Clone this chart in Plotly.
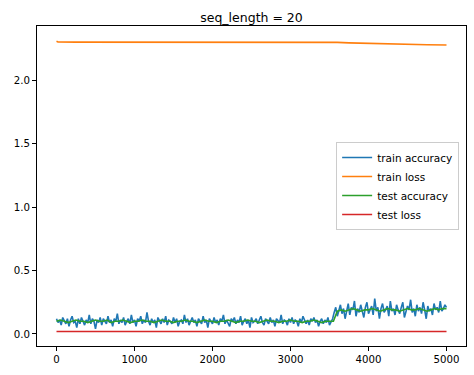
import plotly.graph_objects as go

# ---- data ----
train_acc_step = 20
train_accuracy = [
    0.12,0.09,0.11,0.07,0.13,0.10,0.08,0.12,0.06,0.11,
    0.14,0.09,0.10,0.05,0.12,0.08,0.13,0.10,0.07,0.11,
    0.09,0.15,0.08,0.12,0.10,0.04,0.11,0.09,0.13,0.07,
    0.12,0.10,0.08,0.14,0.09,0.11,0.06,0.12,0.10,0.16,
    0.08,0.11,0.09,0.13,0.07,0.10,0.12,0.08,0.15,0.09,
    0.11,0.06,0.12,0.10,0.14,0.08,0.11,0.09,0.17,0.10,
    0.07,0.12,0.09,0.11,0.05,0.13,0.10,0.08,0.12,0.09,
    0.14,0.07,0.11,0.10,0.08,0.13,0.09,0.12,0.06,0.10,
    0.11,0.08,0.15,0.09,0.12,0.07,0.10,0.13,0.09,0.11,
    0.06,0.12,0.10,0.08,0.14,0.09,0.11,0.05,0.12,0.10,
    0.08,0.13,0.09,0.11,0.07,0.12,0.10,0.15,0.08,0.11,
    0.09,0.06,0.12,0.10,0.13,0.08,0.11,0.09,0.14,0.07,
    0.10,0.12,0.08,0.11,0.05,0.13,0.09,0.10,0.12,0.08,
    0.11,0.14,0.09,0.07,0.12,0.10,0.08,0.13,0.09,0.11,
    0.06,0.12,0.10,0.09,0.15,0.08,0.11,0.10,0.07,0.12,
    0.09,0.13,0.08,0.11,0.10,0.06,0.12,0.09,0.14,0.10,
    0.08,0.11,0.07,0.12,0.10,0.13,0.09,0.11,0.06,0.10,
    0.12,0.08,0.11,0.09,0.13,0.07,0.10,0.12,
    0.17,0.21,0.14,0.19,0.23,0.16,0.20,0.12,0.18,0.24,
    0.15,0.21,0.19,0.26,0.14,0.20,0.17,0.23,0.18,0.13,
    0.21,0.25,0.16,0.19,0.22,0.15,0.28,0.18,0.21,0.12,
    0.20,0.24,0.17,0.19,0.22,0.14,0.26,0.18,0.20,0.15,
    0.23,0.19,0.16,0.21,0.25,0.13,0.18,0.22,0.19,0.27,
    0.17,0.20,0.14,0.23,0.18,0.21,0.16,0.25,0.19,0.12,
    0.22,0.18,0.20,0.15,0.24,0.19,0.21,0.17,0.26,0.18,
    0.20,0.23,0.21,
]

train_loss_steps = [0, 20, 250, 500, 750, 1000, 1250, 1500, 1750, 2000, 2250,
                    2500, 2750, 3000, 3250, 3500, 3600, 3750, 4000, 4250,
                    4500, 4750, 5000]
train_loss = [
    2.310, 2.304, 2.303, 2.303, 2.303, 2.303, 2.303, 2.303, 2.303, 2.303,
    2.303, 2.303, 2.303, 2.303, 2.303, 2.303, 2.301, 2.297, 2.292, 2.288,
    2.285, 2.282, 2.280,
]

test_acc_step = 50
test_accuracy = [
    0.10,0.11,0.10,0.09,0.10,0.11,0.10,0.10,0.09,0.10,
    0.11,0.10,0.10,0.11,0.09,0.10,0.10,0.11,0.10,0.09,
    0.10,0.10,0.11,0.10,0.10,0.09,0.10,0.11,0.10,0.10,
    0.09,0.10,0.10,0.11,0.10,0.10,0.09,0.10,0.11,0.10,
    0.10,0.09,0.10,0.10,0.11,0.10,0.09,0.10,0.10,0.11,
    0.10,0.10,0.09,0.10,0.11,0.10,0.10,0.09,0.10,0.10,
    0.11,0.10,0.10,0.09,0.10,0.10,0.11,0.10,0.09,0.10,
    0.10,0.10,
    0.18,0.19,0.18,0.19,0.20,0.19,0.18,0.19,0.19,0.20,
    0.19,0.18,0.19,0.20,0.19,0.19,0.18,0.19,0.20,0.19,
    0.19,0.20,0.19,0.18,0.19,0.20,0.19,0.20,0.20,
]

test_loss_step = 250
test_loss = [0.02] * 21

x_ticks = [0, 1000, 2000, 3000, 4000, 5000]
y_ticks = [0.0, 0.5, 1.0, 1.5, 2.0]
y_tick_labels = ["0.0", "0.5", "1.0", "1.5", "2.0"]
title = "seq_length = 20"

# ---- figure ----
FONT = "DejaVu Sans"
fig = go.Figure()

def xs(n, step):
    return [i * step for i in range(n)]

series = [
    ("train accuracy", xs(len(train_accuracy), train_acc_step), train_accuracy, "#1f77b4"),
    ("train loss", train_loss_steps, train_loss, "#ff7f0e"),
    ("test accuracy", xs(len(test_accuracy), test_acc_step), test_accuracy, "#2ca02c"),
    ("test loss", xs(len(test_loss), test_loss_step), test_loss, "#d62728"),
]
for name, x, y, c in series:
    fig.add_trace(go.Scatter(x=x, y=y, mode="lines", name=name,
                             line=dict(color=c, width=1.6)))

axis_common = dict(
    showline=True, linecolor="#000000", linewidth=1, mirror=True,
    ticks="outside", ticklen=4, tickcolor="#000000", tickwidth=1,
    showgrid=False, zeroline=False, automargin=False,
    tickfont=dict(family=FONT, size=10.2, color="black"),
)

fig.update_layout(
    template="none",
    width=474, height=375,
    margin=dict(l=37, r=8, t=26, b=29, autoexpand=False),
    paper_bgcolor="white", plot_bgcolor="white",
    font=dict(family=FONT, color="black"),
    title=dict(text=title, x=0.5, xanchor="center", xref="paper",
               y=1, yref="paper", yanchor="bottom", pad=dict(b=4),
               font=dict(family=FONT, size=12.5, color="black")),
    xaxis=dict(range=[-250, 5250], tickvals=x_ticks, **axis_common),
    yaxis=dict(range=[-0.095, 2.43], tickvals=y_ticks, ticktext=y_tick_labels,
               **axis_common),
    legend=dict(x=0.984, xanchor="right", y=0.5, yanchor="middle",
                bgcolor="rgba(255,255,255,0.8)", bordercolor="#cccccc",
                borderwidth=1, font=dict(family=FONT, size=10.5, color="black"),
                itemwidth=30, tracegroupgap=0),
    showlegend=True,
)

fig.write_html("out.html", config={"displayModeBar": False},
               post_script="document.body.style.margin='0';")
